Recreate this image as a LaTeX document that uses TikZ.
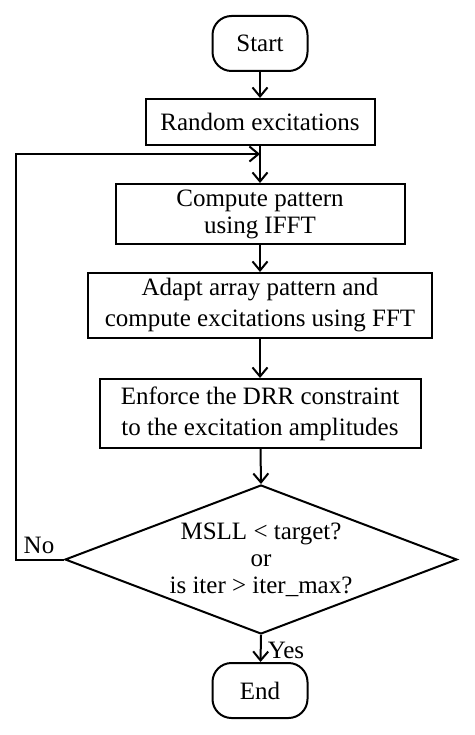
\documentclass[tikz,border=0pt]{standalone}
\usepackage{fontspec}
\setmainfont{Liberation Serif}
\usetikzlibrary{arrows.meta,shapes.geometric}
\begin{document}
\begin{tikzpicture}[x=1pt,y=1pt,
  every node/.style={font=\fontsize{25}{31}\selectfont},
  procbox/.style={draw,line width=2pt,align=center,inner sep=0pt},
  termbox/.style={draw,line width=2pt,rounded corners=19pt,inner sep=0pt,minimum width=95pt,minimum height=55pt},
  decbox/.style={draw,line width=2pt,diamond,align=center,inner sep=0pt,aspect=2.63,minimum width=392pt,minimum height=149pt},
  flow/.style={line width=2pt,-{Straight Barb[length=9pt,width=15pt,line width=2pt]}},
  lbl/.style={font=\fontsize{25}{31}\selectfont}]
\useasboundingbox (0,0) rectangle (474,-735);
\node[termbox] (start) at (260,-43.5) {Start};
\node[procbox,minimum width=229pt,minimum height=46pt] (rand) at (260,-122) {Random excitations};
\node[procbox,minimum width=289pt,minimum height=60pt] (comp) at (260,-214) {Compute pattern\\[-4pt]using IFFT};
\node[procbox,minimum width=344pt,minimum height=65pt] (adapt) at (260,-305.5) {Adapt array pattern and\\compute excitations using FFT};
\node[procbox,minimum width=321pt,minimum height=69pt] (enf) at (260,-413.5) {Enforce the DRR constraint\\to the excitation amplitudes};
\node[decbox] (dec) at (261,-559.5) {MSLL < target?\\[-4pt]or\\[-4pt]is iter > iter\_max?};
\node[termbox] (end) at (260,-690.5) {End};
\coordinate (j) at (260,-154);
\coordinate (c1) at (16,-559.5);
\coordinate (c2) at (16,-154);
\draw[flow] (start) -- (rand);
\draw[flow] (rand) -- (comp);
\draw[flow] (comp) -- (adapt);
\draw[flow] (adapt) -- (enf);
\draw[flow] (enf) -- (dec.north);
\draw[flow] (dec.south) -- (end);
\draw[flow] (dec.west) -- (c1) -- (c2) -- (j);
\node[lbl] (no) at (39,-545) {No};
\node[lbl] (yes) at (286,-650) {Yes};
\end{tikzpicture}
\end{document}
